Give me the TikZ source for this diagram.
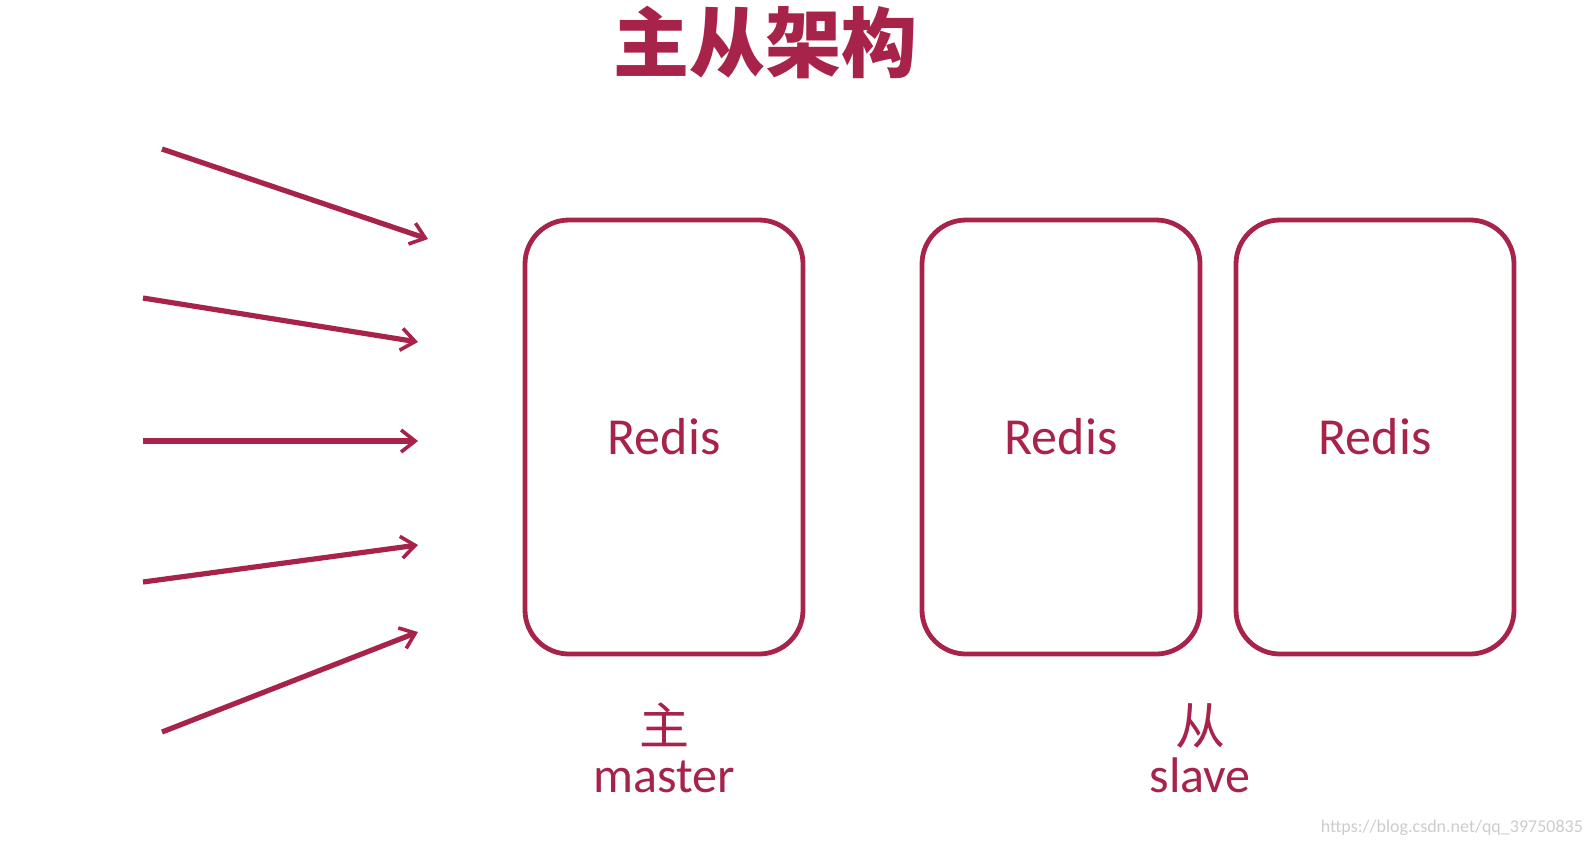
\documentclass[tikz,border=0pt]{standalone}
\usepackage{fontspec}
\setmainfont{Carlito}
\newfontfamily\cjk{Noto Sans CJK SC}
\usetikzlibrary{arrows.meta}
\definecolor{redisred}{HTML}{A8234A}
\tikzset{
  server/.style={draw=redisred,line width=2.4pt,rounded corners=22pt,
    minimum width=139pt,minimum height=217pt,text=redisred,font=\fontsize{26}{30}\selectfont},
  request/.style={draw=redisred,line width=2.6pt,-{Straight Barb[length=7pt,width=11pt,line width=1.8pt]}},
  caption/.style={text=redisred,font=\fontsize{25}{28}\selectfont,align=center}
}
\begin{document}
\begin{tikzpicture}[x=0.5pt,y=-0.5pt]
\useasboundingbox (0,0) rectangle (1594,859);
\node[text=redisred,font=\cjk\bfseries\fontsize{38}{42}\selectfont] (title) at (765,42) {主从架构};
\node[server] (master) at (664,437) {Redis};
\node[server] (slave1) at (1061,437) {Redis};
\node[server] (slave2) at (1375,437) {Redis};
\coordinate (A1) at (162,149);
\coordinate (B1) at (428,239);
\coordinate (A2) at (143,298);
\coordinate (B2) at (418,342);
\coordinate (A3) at (143,441);
\coordinate (B3) at (418,441);
\coordinate (A4) at (143,582);
\coordinate (B4) at (418,545);
\coordinate (A5) at (162,732);
\coordinate (B5) at (418,632);
\foreach \i in {1,...,5}
  \draw[request] (A\i) -- (B\i);
\node[caption] (mlabel) at (664,748) {{\cjk 主}\\[-4pt]master};
\node[caption] (slabel) at (1200,748) {{\cjk 从}\\[-4pt]slave};
\node[text=black!20,font=\fontsize{9}{10}\selectfont,anchor=east] (mark) at (1590,828) {https://blog.csdn.net/qq\_39750835};
\end{tikzpicture}
\end{document}
